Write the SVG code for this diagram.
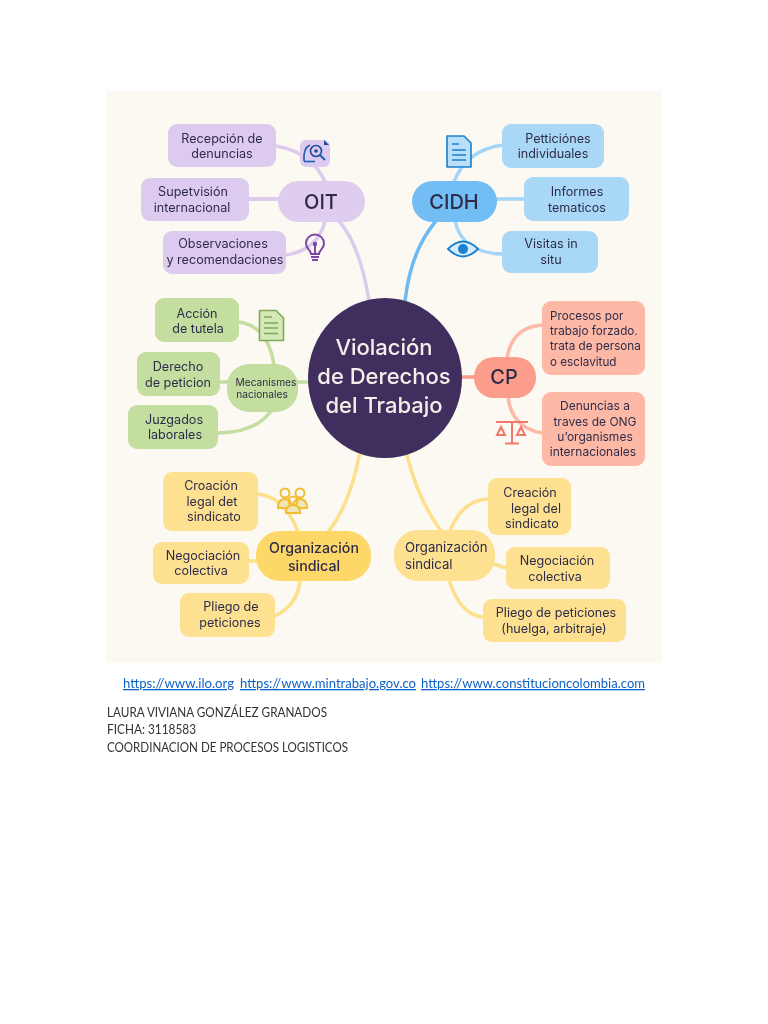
<svg xmlns="http://www.w3.org/2000/svg" width="768" height="1024" viewBox="0 0 768 1024">
<defs>
<filter id="soft" x="-5%" y="-5%" width="110%" height="110%"><feGaussianBlur stdDeviation="0.4"/></filter>
</defs>
<style>
text{font-family:Inter,"Liberation Sans",sans-serif;fill:#2f2c49;text-anchor:middle;font-size:12.6px}
.pur{fill:#dccbef}.blu{fill:#a9d8f6}.gre{fill:#c3de9f}.red{fill:#fdb9a6}.yel{fill:#fde191}
.c{fill:none;stroke-linecap:butt}
.h{font-size:20px;font-weight:500}
.o{font-size:14.2px;font-weight:500}
.l{text-anchor:start}
.s{font-size:11.7px}
.t{font-size:12px}
.w{fill:#f4efe9;font-size:22px;font-weight:500}
.f{font-family:Lato,Carlito,"Liberation Sans",sans-serif;font-size:13px;text-anchor:start;fill:#333}
.a{fill:#0f62c4;text-decoration:underline}
</style>
<rect width="768" height="1024" fill="#fff"/>
<rect x="106" y="91" width="556" height="572" fill="#fcf8f2"/>
<g filter="url(#soft)">
<g id="connectors" class="c">
<g stroke="#dccbef" stroke-width="3.5">
<path d="M339 221Q360 245 369 301"/>
<path d="M276 146Q312 152 325 182"/>
<path d="M249 199H280" stroke-width="4"/>
<path d="M286 255Q318 250 325 221"/>
</g>
<g stroke="#a5d5f6" stroke-width="3.5">
<path d="M503 145Q466 150 454 182"/>
<path d="M496 199H525"/>
<path d="M502 254Q462 253 455 221"/>
<path d="M436 221Q411 250 405 301" stroke="#6cbaf3"/>
</g>
<g stroke="#c3de9f" stroke-width="3.5">
<path d="M239 322Q268 326 274 365"/>
<path d="M220 382H228"/>
<path d="M218 433Q255 433 271 411"/>
<path d="M297 382H310"/>
</g>
<g stroke="#fdb9a6" stroke-width="3.5">
<path d="M542 325Q512 327 507 358"/>
<path d="M508 397Q512 428 542 433"/>
<path d="M461 377H475" stroke="#fb9d8a"/>
</g>
<g stroke="#fde08c" stroke-width="3.5">
<path d="M360 452Q350 505 328 532"/>
<path d="M407 455Q418 500 441 531"/>
<path d="M258 494Q285 497 298 532"/>
<path d="M249 561H257"/>
<path d="M275 616Q298 605 300 580"/>
<path d="M488 499Q462 500 450 531"/>
<path d="M494 564L506 568"/>
<path d="M483 617Q460 615 449 580"/>
</g>
</g>
<g id="center"><ellipse cx="385" cy="378" rx="77" ry="80" fill="#3f2f5e"/>
<text x="384" y="355" class="w">Violación</text><text x="384" y="384" class="w">de Derechos</text><text x="384" y="413" class="w">del Trabajo</text></g>

<g id="oit"><rect x="278" y="181" width="87" height="41" rx="20.5" fill="#dfcdf0"/><text x="321" y="209" class="h">OIT</text></g>
<g id="oit-1"><rect x="168" y="124" width="108" height="43" rx="9" class="pur"/><text x="222" y="143">Recepción de</text><text x="222" y="158">denuncias</text></g>
<g id="oit-2"><rect x="141" y="178" width="108" height="43" rx="9" class="pur"/><text x="193" y="196">Supetvisión</text><text x="192" y="212">internacional</text></g>
<g id="oit-3"><rect x="163" y="231" width="123" height="43" rx="9" class="pur"/><text x="223" y="248">Observaciones</text><text x="225" y="264">y recomendaciones</text></g>
<g id="icon-search"><rect x="300" y="140" width="30" height="27" rx="6" class="pur"/>
<path d="M304 161Q303 148 310 145" fill="none" stroke="#1d5fb0" stroke-width="1.6"/><path d="M304 161.500H315" fill="none" stroke="#1d5fb0" stroke-width="1.6"/>
<circle cx="316" cy="151" r="5.500" fill="none" stroke="#1d4d94" stroke-width="1.600"/><circle cx="316" cy="151" r="1.800" fill="#1d4d94"/><path d="M320 155L325 160" stroke="#1d5fb0" stroke-width="2"/><path d="M324 140L329 145H324Z" fill="#1d4d94"/></g>
<g id="icon-bulb" fill="none" stroke="#7b46a8" stroke-width="2"><path d="M311 254C311 250 306 249 306 243.500A9 9 0 0 1 324 243.500C324 249 319 250 319 254Z"/><circle cx="315" cy="244" r="2.200" fill="#7b46a8" stroke="none"/><path d="M315 246V254M311 257H319M312 260H318"/></g>

<g id="cidh"><rect x="412" y="181" width="85" height="41" rx="20.5" fill="#72bdf4"/><text x="454" y="209" class="h">CIDH</text></g>
<g id="cidh-1"><rect x="502" y="124" width="102" height="44" rx="9" class="blu"/><text x="558" y="143">Petticiónes</text><text x="553" y="158">individuales</text></g>
<g id="cidh-2"><rect x="524" y="177" width="105" height="44" rx="9" class="blu"/><text x="577" y="196">Informes</text><text x="577" y="212">tematicos</text></g>
<g id="cidh-3"><rect x="502" y="231" width="96" height="42" rx="9" class="blu"/><text x="551" y="248">Visitas in</text><text x="551" y="264">situ</text></g>
<g id="icon-doc-blue"><path d="M447 136H464L471 143V167H447Z" fill="#b9e0f8" stroke="#1a80d0" stroke-width="1.600" stroke-linejoin="round"/><path d="M452 144H459M452 150H466M452 155H466M452 160H466" stroke="#1a80d0" stroke-width="1.600"/></g>
<g id="icon-eye"><path d="M448 249Q463 234 478 249Q463 264 448 249Z" fill="#d5ecfa" stroke="#1a80d0" stroke-width="1.800"/><circle cx="463" cy="249" r="5" fill="#1a80d0"/></g>

<g id="mec"><rect x="227" y="364" width="71" height="48" rx="22" class="gre"/><text x="266" y="386" style="font-size:10.2px">Mecanismes</text><text x="262" y="398" style="font-size:10.2px">nacionales</text></g>
<g id="mec-1"><rect x="155" y="298" width="84" height="44" rx="9" class="gre"/><text x="197" y="318">Acción</text><text x="198" y="333">de tutela</text></g>
<g id="mec-2"><rect x="137" y="352" width="83" height="44" rx="9" class="gre"/><text x="178" y="371">Derecho</text><text x="178" y="387">de peticion</text></g>
<g id="mec-3"><rect x="128" y="405" width="90" height="44" rx="9" class="gre"/><text x="174" y="424">Juzgados</text><text x="175" y="439">laborales</text></g>
<g id="icon-doc-green"><path d="M259.500 310.500H276L283.500 318V340.500H259.500Z" fill="#d4e8b8" stroke="#7fa955" stroke-width="1.600" stroke-linejoin="round"/><path d="M264 317H272M264 323H278M264 328H278M264 333.500H278" stroke="#7fa955" stroke-width="1.600"/></g>

<g id="cp"><rect x="474" y="357" width="62" height="41" rx="20" fill="#fb9d8a"/><text x="504" y="384" class="h">CP</text></g>
<g id="cp-1"><rect x="542" y="301" width="103" height="74" rx="9" class="red"/><text x="550" y="320" class="l s">Procesos por</text><text x="550" y="335" class="l s">trabajo forzado.</text><text x="550" y="350" class="l s">trata de persona</text><text x="550" y="366" class="l s">o esclavitud</text></g>
<g id="cp-2"><rect x="542" y="392" width="103" height="74" rx="9" class="red"/><text x="595" y="410" class="t">Denuncias a</text><text x="595" y="426" class="t">traves de ONG</text><text x="595" y="441" class="t">u’organismes</text><text x="593" y="456" class="t">internacionales</text></g>
<g id="icon-scale" fill="none" stroke="#f2786c" stroke-width="2"><path d="M496 422H528M512 422V443M505 443.500H519"/><path d="M501 427L497 435H505ZM521 427L517 435H525Z"/></g>

<g id="org-l"><rect x="256" y="531" width="115" height="50" rx="24" fill="#fdd868"/><text x="314" y="553" class="o">Organización</text><text x="314" y="571" class="o">sindical</text></g>
<g id="org-l-1"><rect x="163" y="472" width="95" height="59" rx="9" class="yel"/><text x="211" y="490">Croación</text><text x="212" y="506">legal det</text><text x="214" y="521">sindicato</text></g>
<g id="org-l-2"><rect x="153" y="542" width="96" height="42" rx="9" class="yel"/><text x="203" y="560">Negociación</text><text x="201" y="575">colectiva</text></g>
<g id="org-l-3"><rect x="180" y="593" width="95" height="44" rx="9" class="yel"/><text x="231" y="611">Pliego de</text><text x="230" y="627">peticiones</text></g>
<g id="icon-people" fill="#f0e6b8" stroke="#f2bd2e" stroke-width="2"><circle cx="285" cy="493" r="4.500" fill="none"/><circle cx="300" cy="493" r="4.500" fill="none"/><path d="M278 508Q278 499 285 499Q292 499 292 508Z"/><path d="M293 508Q293 499 300 499Q307 499 307 508Z"/><circle cx="293" cy="501" r="4.500" fill="none"/><path d="M286 513Q286 505 293 505Q300 505 300 513Z"/></g>

<g id="org-r"><rect x="394" y="530" width="101" height="51" rx="24" class="yel"/><text x="405" y="552" class="l" style="font-size:13.2px">Organización</text><text x="405" y="569" class="l" style="font-size:13.2px">sindical</text></g>
<g id="org-r-1"><rect x="488" y="478" width="83" height="57" rx="9" class="yel"/><text x="530" y="497">Creación</text><text x="536" y="513">legal del</text><text x="532" y="528">sindicato</text></g>
<g id="org-r-2"><rect x="506" y="547" width="104" height="42" rx="9" class="yel"/><text x="557" y="565">Negociación</text><text x="555" y="581">colectiva</text></g>
<g id="org-r-3"><rect x="483" y="599" width="143" height="43" rx="9" class="yel"/><text x="556" y="617">Pliego de peticiones</text><text x="554" y="633">(huelga, arbitraje)</text></g>
</g>
<g id="footer" filter="url(#soft)">
<text x="123" y="688" class="f a" textLength="111" lengthAdjust="spacingAndGlyphs">https://www.ilo.org</text>
<text x="240" y="688" class="f a" textLength="176" lengthAdjust="spacingAndGlyphs">https://www.mintrabajo.gov.co</text>
<text x="421" y="688" class="f a" textLength="224" lengthAdjust="spacingAndGlyphs">https://www.constitucioncolombia.com</text>
<text x="107" y="717" class="f" textLength="220" lengthAdjust="spacingAndGlyphs">LAURA VIVIANA GONZÁLEZ GRANADOS</text>
<text x="107" y="734" class="f" textLength="89" lengthAdjust="spacingAndGlyphs">FICHA: 3118583</text>
<text x="107" y="752" class="f" textLength="241" lengthAdjust="spacingAndGlyphs">COORDINACION DE PROCESOS LOGISTICOS</text>
</g>
</svg>
